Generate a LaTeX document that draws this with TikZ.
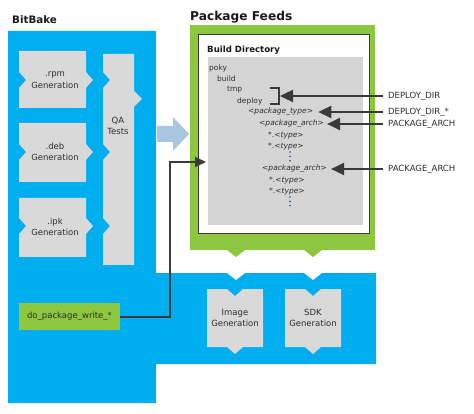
\documentclass[tikz,border=0pt]{standalone}
\usepackage{fontspec}
\setmainfont{DejaVu Sans}
\usepackage{tikz}
\usetikzlibrary{arrows.meta}

\definecolor{bbblue}{RGB}{0,174,239}
\definecolor{feedgreen}{RGB}{141,198,63}
\definecolor{gengray}{RGB}{217,217,217}
\definecolor{dirgray}{RGB}{213,213,213}
\definecolor{arrowgray}{RGB}{58,58,58}
\definecolor{txtgray}{RGB}{45,45,45}
\definecolor{lightarrow}{RGB}{168,198,224}
\definecolor{dotblue}{RGB}{40,70,130}

\tikzset{
  gentext/.style={align=center, text=txtgray, inner sep=0pt,
    font=\fontsize{8.5}{11.5}\selectfont},
  treetext/.style={anchor=west, inner sep=0pt, text=txtgray,
    font=\fontsize{7.5}{9}\selectfont},
  treeital/.style={treetext, font=\fontsize{7.5}{9}\selectfont\itshape},
  varlabel/.style={anchor=west, inner xsep=5pt, inner ysep=0pt, text=txtgray,
    font=\fontsize{8.5}{10}\selectfont},
  vararrow/.style={draw=arrowgray, line width=2.4pt,
    -{Triangle[length=13pt,width=12pt]}},
  linkarrow/.style={draw=arrowgray, line width=2pt,
    -{Triangle[length=11pt,width=10pt]}},
  dotline/.style={draw=dotblue, line width=1.8pt, line cap=round,
    dash pattern=on 0pt off 4.4pt},
  title/.style={anchor=west, inner sep=0pt, text=black!90}
}

\begin{document}
\begin{tikzpicture}[x=1pt, y=-1pt]
  \useasboundingbox (0,0) rectangle (474,414);

  % bitbake area
  \fill[bbblue] (8,31) -- (156,31) -- (156,273) -- (376,273) -- (376,364)
    -- (156,364) -- (156,403) -- (8,403) -- cycle;
  \node[title, font=\bfseries\fontsize{10.3}{12}\selectfont] (bitbake) at (12,20) {BitBake};

  % generation boxes
  \fill[gengray] (19,51) -- (86,51) -- (86,72) -- (93,80) -- (86,88) -- (86,108)
    -- (19,108) -- (19,88) -- (26,80) -- (19,72) -- cycle;
  \node[gentext] (rpm) at (55,80) {.rpm\\Generation};
  \fill[gengray] (19,123) -- (86,123) -- (86,144) -- (93,152) -- (86,160) -- (86,182)
    -- (19,182) -- (19,160) -- (26,152) -- (19,144) -- cycle;
  \node[gentext] (deb) at (55,152) {.deb\\Generation};
  \fill[gengray] (19,198) -- (86,198) -- (86,218) -- (93,226) -- (86,234) -- (86,257)
    -- (19,257) -- (19,234) -- (26,226) -- (19,218) -- cycle;
  \node[gentext] (ipk) at (55,227) {.ipk\\Generation};

  % qa tests
  \fill[gengray] (103,54) -- (134,54) -- (134,91) -- (142,99) -- (134,107) -- (134,265)
    -- (103,265) -- (103,234) -- (110,226) -- (103,218) -- (103,160) -- (110,152)
    -- (103,144) -- (103,88) -- (110,80) -- (103,72) -- cycle;
  \node[gentext] (qa) at (118,126) {QA\\Tests};

  % arrow into feeds
  \fill[lightarrow] (157,126) -- (173,126) -- (173,117) -- (189,134) -- (173,151)
    -- (173,142) -- (157,142) -- cycle;

  % package feeds
  \node[title, font=\bfseries\fontsize{12.2}{14}\selectfont] (feeds) at (190,17) {Package Feeds};
  \fill[feedgreen] (190,25) rectangle (375,250);
  \fill[feedgreen] (227,250) -- (245,250) -- (236,257) -- cycle;
  \fill[feedgreen] (304,250) -- (322,250) -- (313,257) -- cycle;
  \draw[draw=arrowgray, fill=white, line width=0.6pt] (198,34) rectangle (369,233);
  \node[title, font=\bfseries\fontsize{8.6}{10}\selectfont] (builddir) at (207,50) {Build Directory};
  \fill[dirgray] (208,57) rectangle (363,225);

  % tree
  \node[treetext] (poky) at (209,68) {poky};
  \node[treetext] (build) at (217,79) {build};
  \node[treetext] (tmp) at (227,90) {tmp};
  \node[treetext] (deploy) at (237,101) {deploy};
  \node[treeital] (ptype) at (248,112) {<package\_type>};
  \node[treeital] (parch1) at (259,124) {<package\_arch>};
  \node[treetext] (type1) at (268,135) {*.\textit{<type>}};
  \node[treetext] (type2) at (268,146) {*.\textit{<type>}};
  \draw[dotline] (290,152) -- (290,165);
  \node[treeital] (parch2) at (262,169) {<package\_arch>};
  \node[treetext] (type3) at (269,180) {*.\textit{<type>}};
  \node[treetext] (type4) at (269,191) {*.\textit{<type>}};
  \draw[dotline] (290,197) -- (290,210);
  \draw[draw=arrowgray, line width=1.6pt] (270,88) -- (279,88) -- (279,104) -- (270,104);
  \coordinate (brk) at (280,96);

  % variables
  \node[varlabel] (ddir) at (383,96) {DEPLOY\_DIR};
  \node[varlabel] (ddirs) at (383,112) {DEPLOY\_DIR\_*};
  \node[varlabel] (archa) at (383,124) {PACKAGE\_ARCH};
  \node[varlabel] (archb) at (383,169) {PACKAGE\_ARCH};
  \draw[vararrow] (ddir.west) -- (brk);
  \draw[vararrow, shorten >=5pt] (ddirs.west) -- (ptype.east);
  \draw[vararrow, shorten >=3pt] (archa.west) -- (parch1.east);
  \draw[vararrow, shorten >=4pt] (archb.west) -- (parch2.east);

  % image and sdk
  \fill[white] (227,273) -- (245,273) -- (236,280) -- cycle;
  \fill[white] (304,273) -- (322,273) -- (313,280) -- cycle;
  \fill[gengray] (207,289) -- (227,289) -- (235,296) -- (243,289) -- (263,289) -- (263,347)
    -- (243,347) -- (235,354) -- (227,347) -- (207,347) -- cycle;
  \node[gentext] (img) at (235,318) {Image\\Generation};
  \fill[gengray] (285,289) -- (305,289) -- (313,296) -- (321,289) -- (341,289) -- (341,347)
    -- (321,347) -- (313,354) -- (305,347) -- (285,347) -- cycle;
  \node[gentext] (sdk) at (313,318) {SDK\\Generation};

  % do_package_write
  \node[gentext, fill=feedgreen, minimum width=101pt, minimum height=27pt] (dopkg)
    at (69.5,316.5) {do\_package\_write\_*};
  \coordinate (bend) at (170,162);
  \coordinate (feedin) at (206,162);
  \draw[linkarrow] (dopkg.east) -| (bend) -- (feedin);
\end{tikzpicture}
\end{document}
